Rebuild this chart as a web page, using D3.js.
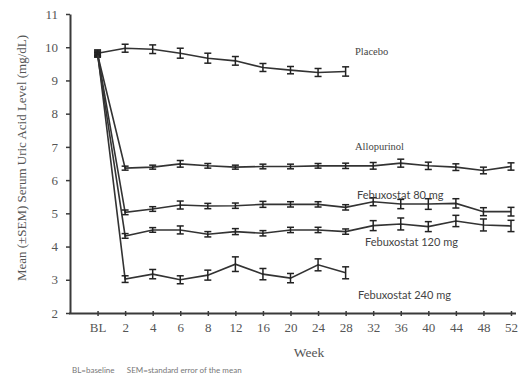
<!DOCTYPE html>
<html><head><meta charset="utf-8">
<script src="https://cdn.jsdelivr.net/npm/d3@7"></script>
<style>body{margin:0;background:#fff}svg{display:block}</style>
</head><body><svg id="c" width="532" height="381"></svg>
<script>
const weeks = ["BL","2","4","6","8","12","16","20","24","28","32","36","40","44","48","52"];
const yTicks = [2,3,4,5,6,7,8,9,10,11];
const placebo   = [9.82,9.97,9.94,9.82,9.67,9.59,9.39,9.31,9.24,9.27];
const placeboSE = [0.07,0.12,0.13,0.15,0.15,0.13,0.12,0.11,0.12,0.14];
const allopurinol   = [9.78,6.36,6.39,6.49,6.43,6.39,6.41,6.41,6.43,6.43,6.43,6.51,6.43,6.39,6.29,6.41];
const allopurinolSE = [0.06,0.06,0.06,0.1,0.07,0.06,0.07,0.07,0.07,0.08,0.1,0.12,0.11,0.1,0.1,0.11];
const febu80   = [9.80,5.03,5.13,5.25,5.22,5.23,5.27,5.27,5.27,5.18,5.35,5.28,5.28,5.30,5.05,5.05];
const febu80SE = [0.06,0.07,0.07,0.12,0.08,0.08,0.09,0.08,0.08,0.08,0.12,0.14,0.16,0.14,0.12,0.13];
const febu120   = [9.76,4.32,4.50,4.50,4.37,4.45,4.40,4.50,4.50,4.45,4.63,4.68,4.60,4.77,4.65,4.62];
const febu120SE = [0.06,0.07,0.07,0.12,0.08,0.09,0.08,0.08,0.08,0.08,0.15,0.18,0.15,0.17,0.18,0.17];
const febu240   = [9.85,3.02,3.17,3.00,3.14,3.47,3.17,3.05,3.45,3.21];
const febu240SE = [0.07,0.1,0.14,0.12,0.15,0.22,0.17,0.14,0.18,0.18];
const seriesNames = ["Placebo","Allopurinol","Febuxostat 80 mg","Febuxostat 120 mg","Febuxostat 240 mg"];

const svg = d3.select("#c");
const x = d3.scaleLinear().domain([-1, 15]).range([70, 511]);
const y = d3.scaleLinear().domain([2, 11]).range([313, 14]);
const serif = "'Liberation Serif','DejaVu Serif',serif";
const axisCol = "#3a3a3a";

// Y axis
const ya = svg.append("g").attr("transform","translate(70,0)")
  .call(d3.axisLeft(y).tickValues(yTicks).tickSize(4).tickSizeOuter(0).tickPadding(8));
ya.select(".domain").attr("stroke",axisCol).attr("stroke-width",2);
ya.selectAll(".tick line").attr("stroke",axisCol).attr("stroke-width",1.5);
ya.selectAll("text").attr("font-family",serif).attr("font-size",13).attr("fill","#555");

// X axis
const xa = svg.append("g").attr("transform","translate(0,313)")
  .call(d3.axisBottom(x).tickValues(d3.range(weeks.length)).tickFormat(i=>weeks[i]).tickSize(3).tickSizeOuter(0).tickPadding(7));
xa.select(".domain").attr("stroke",axisCol).attr("stroke-width",2).attr("d","M69,0.5H516");
xa.selectAll(".tick line").attr("stroke",axisCol).attr("stroke-width",1.5).attr("y1",-2);
xa.selectAll("text").attr("font-family",serif).attr("font-size",13).attr("fill","#555");

const all = [[placebo,placeboSE],[allopurinol,allopurinolSE],[febu80,febu80SE],[febu120,febu120SE],[febu240,febu240SE]];
const line = d3.line().x((d,i)=>x(i)).y(d=>y(d));
all.forEach(([vals,se])=>{
  svg.append("path").attr("d",line(vals)).attr("fill","none").attr("stroke","#333").attr("stroke-width",1.6);
  const g = svg.append("g").attr("stroke","#222").attr("stroke-width",1.5);
  vals.forEach((v,i)=>{
    const cx = x(i), y1 = y(v+se[i]), y2 = y(v-se[i]);
    g.append("line").attr("x1",cx).attr("x2",cx).attr("y1",y1).attr("y2",y2);
    g.append("line").attr("x1",cx-3.5).attr("x2",cx+3.5).attr("y1",y1).attr("y2",y1);
    g.append("line").attr("x1",cx-3.5).attr("x2",cx+3.5).attr("y1",y2).attr("y2",y2);
  });
});

// Series labels
const sans = "Lato,'Open Sans',sans-serif";
const labels = [
  {t:seriesNames[0], x:355, y:55, f:serif, s:10.5},
  {t:seriesNames[1], x:355, y:150, f:serif, s:10.5},
  {t:seriesNames[2], x:357, y:199, f:sans, s:11},
  {t:seriesNames[3], x:365, y:246, f:sans, s:11},
  {t:seriesNames[4], x:358, y:299, f:sans, s:11}
];
labels.forEach(l=>svg.append("text").attr("x",l.x).attr("y",l.y).attr("font-family",l.f)
  .attr("font-size",l.s).attr("fill","#444").text(l.t));

// Axis titles
svg.append("text").attr("transform","translate(26,158) rotate(-90)").attr("text-anchor","middle")
  .attr("font-family",serif).attr("font-size",13).attr("fill","#555").text("Mean (±SEM) Serum Uric Acid Level (mg/dL)");
svg.append("text").attr("x",309).attr("y",357).attr("text-anchor","middle")
  .attr("font-family",serif).attr("font-size",13.5).attr("fill","#555").text("Week");
svg.append("text").attr("x",72).attr("y",373).attr("font-family",sans).attr("font-size",8)
  .attr("fill","#777").attr("xml:space","preserve").text("BL=baseline      SEM=standard error of the mean");
</script></body></html>
